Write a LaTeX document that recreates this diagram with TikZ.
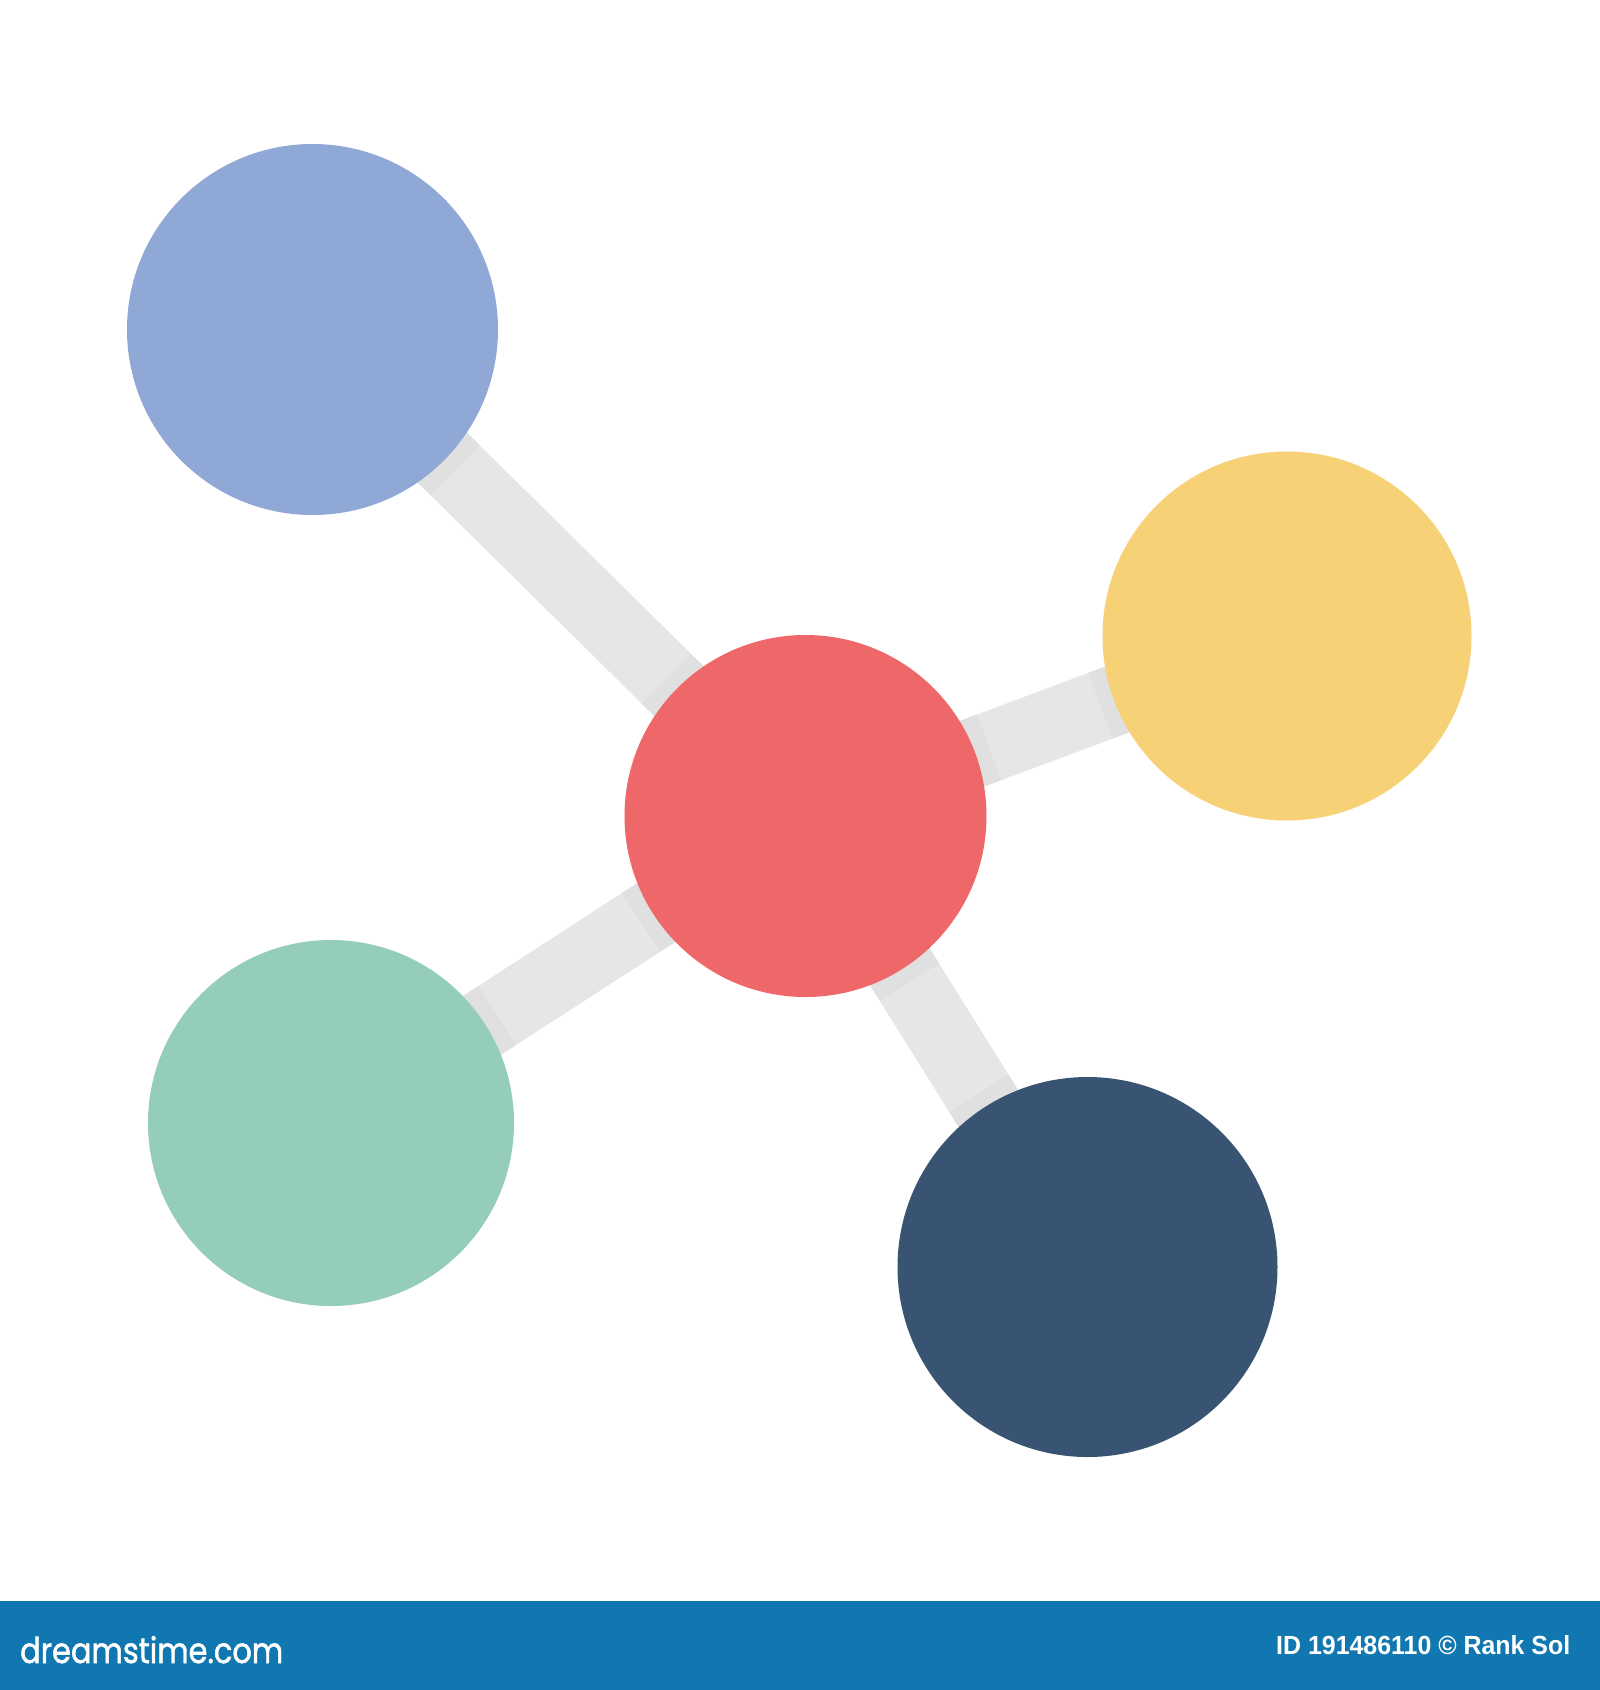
\documentclass[tikz,border=0pt]{standalone}
\usepackage{fontspec}
\setmainfont{Liberation Sans}
\newfontfamily\logofont[FakeBold=1.5]{Poppins}
\usetikzlibrary{calc}
\pgfdeclarelayer{paper}
\pgfdeclarelayer{bg}
\pgfsetlayers{paper,bg,main}
\definecolor{cblue}{HTML}{8FA8D6}
\definecolor{cyellow}{HTML}{F6D176}
\definecolor{cred}{HTML}{EF6869}
\definecolor{cgreen}{HTML}{95CDBD}
\definecolor{cnavy}{HTML}{395472}
\definecolor{cbar}{HTML}{E6E6E6}
\definecolor{cshade}{HTML}{E0E0E0}
\definecolor{cfoot}{HTML}{1077B0}
\begin{document}
\begin{tikzpicture}[x=1pt,y=-1pt,
  ball/.style={circle,inner sep=0pt,draw=none,minimum size=#1},
  link/.style={draw=cbar,line width=70pt},
  linkshade/.style={draw=cshade,line width=70pt},
  foottext/.style={text=white,inner sep=0pt,anchor=base west}]
\useasboundingbox (0,0) rectangle (1600,1690);
\begin{pgfonlayer}{paper}
\fill[white] (0,0) rectangle (1600,1690);
\end{pgfonlayer}
% atoms
\node[ball=371pt,fill=cblue]   (blue)   at (312.5,329.5) {};
\node[ball=369pt,fill=cyellow] (yellow) at (1287,636) {};
\node[ball=362pt,fill=cred]    (red)    at (805.5,816) {};
\node[ball=366pt,fill=cgreen]  (green)  at (331,1123) {};
\node[ball=380pt,fill=cnavy]   (navy)   at (1087.5,1267) {};
% bonds
\begin{pgfonlayer}{bg}
\path[link] (red.center) -- (blue.center);
\path[link] (red.center) -- (yellow.center);
\path[link] (red.center) -- (green.center);
\path[link] (red.center) -- (navy.center);
\path[linkshade] (red.center) -- ($(red.center)!196pt!(blue.center)$);
\path[linkshade] (red.center) -- ($(red.center)!196pt!(yellow.center)$);
\path[linkshade] (red.center) -- ($(red.center)!196pt!(green.center)$);
\path[linkshade] (red.center) -- ($(red.center)!196pt!(navy.center)$);
\path[linkshade] (blue.center) -- ($(blue.center)!200pt!(red.center)$);
\path[linkshade] (yellow.center) -- ($(yellow.center)!199pt!(red.center)$);
\path[linkshade] (green.center) -- ($(green.center)!198pt!(red.center)$);
\path[linkshade] (navy.center) -- ($(navy.center)!205pt!(red.center)$);
\end{pgfonlayer}
% footer
\fill[cfoot] (0,1601) rectangle (1600,1690);
\node[foottext] (logo) at (20,1663) {\resizebox{263pt}{27pt}{\logofont dreamstime.com}};
\node[foottext] (credit) at (1276,1654) {\resizebox{294pt}{19pt}{\bfseries ID 191486110 © Rank Sol}};
\end{tikzpicture}
\end{document}
